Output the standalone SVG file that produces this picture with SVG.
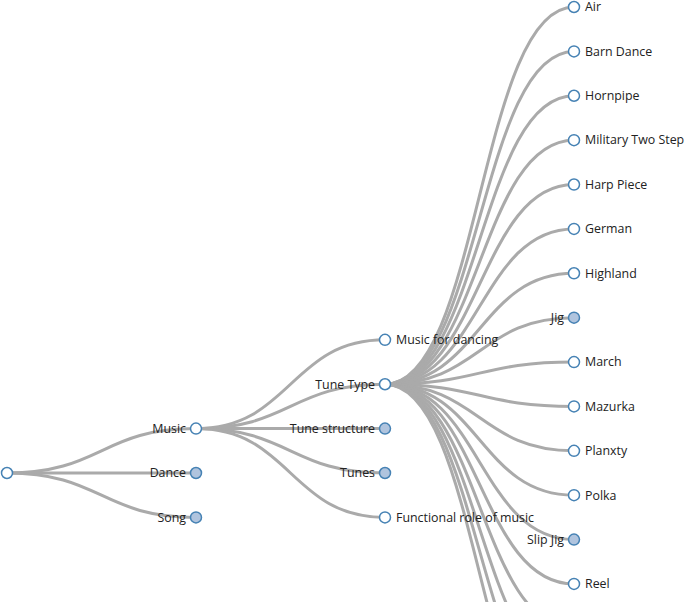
<svg xmlns="http://www.w3.org/2000/svg" width="685" height="602" viewBox="0 0 685 602">
<style>
.link{fill:none;stroke:#aaaaaa;stroke-width:3}
.node circle{stroke:#4682b4;stroke-width:1.5;fill:#fff}
.node.collapsed circle{fill:#b0c4de}
.node text{font-family:"Open Sans","Liberation Sans",sans-serif;font-size:12.4px;fill:#222}
.l{text-anchor:end}
</style>
<rect width="685" height="602" fill="#fff"/>
<g id="links">
<path class="link" d="M7,473C101.5,473 101.5,428.62 196,428.62"/>
<path class="link" d="M7,473C101.5,473 101.5,473 196,473"/>
<path class="link" d="M7,473C101.5,473 101.5,517.38 196,517.38"/>
<path class="link" d="M196,428.62C290.5,428.62 290.5,339.86 385,339.86"/>
<path class="link" d="M196,428.62C290.5,428.62 290.5,384.24 385,384.24"/>
<path class="link" d="M196,428.62C290.5,428.62 290.5,428.62 385,428.62"/>
<path class="link" d="M196,428.62C290.5,428.62 290.5,473 385,473"/>
<path class="link" d="M196,428.62C290.5,428.62 290.5,517.38 385,517.38"/>
<path class="link" d="M385,384.24C479.5,384.24 479.5,7 574,7"/>
<path class="link" d="M385,384.24C479.5,384.24 479.5,51.38 574,51.38"/>
<path class="link" d="M385,384.24C479.5,384.24 479.5,95.76 574,95.76"/>
<path class="link" d="M385,384.24C479.5,384.24 479.5,140.14 574,140.14"/>
<path class="link" d="M385,384.24C479.5,384.24 479.5,184.52 574,184.52"/>
<path class="link" d="M385,384.24C479.5,384.24 479.5,228.9 574,228.9"/>
<path class="link" d="M385,384.24C479.5,384.24 479.5,273.29 574,273.29"/>
<path class="link" d="M385,384.24C479.5,384.24 479.5,317.67 574,317.67"/>
<path class="link" d="M385,384.24C479.5,384.24 479.5,362.05 574,362.05"/>
<path class="link" d="M385,384.24C479.5,384.24 479.5,406.43 574,406.43"/>
<path class="link" d="M385,384.24C479.5,384.24 479.5,450.81 574,450.81"/>
<path class="link" d="M385,384.24C479.5,384.24 479.5,495.19 574,495.19"/>
<path class="link" d="M385,384.24C479.5,384.24 479.5,539.57 574,539.57"/>
<path class="link" d="M385,384.24C479.5,384.24 479.5,583.95 574,583.95"/>
<path class="link" d="M385,384.24C479.5,384.24 479.5,628.33 574,628.33"/>
<path class="link" d="M385,384.24C479.5,384.24 479.5,672.71 574,672.71"/>
<path class="link" d="M385,384.24C479.5,384.24 479.5,717.09 574,717.09"/>
<path class="link" d="M385,384.24C479.5,384.24 479.5,761.47 574,761.47"/>
</g>
<g id="root" class="node" transform="translate(7,473)"><circle r="5.5"/></g>
<g id="music" class="node" transform="translate(196,428.62)"><circle r="5.5"/><text class="l" x="-10" dy="0.35em">Music</text></g>
<g id="dance" class="node collapsed" transform="translate(196,473)"><circle r="5.5"/><text class="l" x="-10" dy="0.35em">Dance</text></g>
<g id="song" class="node collapsed" transform="translate(196,517.38)"><circle r="5.5"/><text class="l" x="-10" dy="0.35em">Song</text></g>
<g id="music-for-dancing" class="node" transform="translate(385,339.86)"><circle r="5.5"/><text x="11" dy="0.35em">Music for dancing</text></g>
<g id="tune-type" class="node" transform="translate(385,384.24)"><circle r="5.5"/><text class="l" x="-10" dy="0.35em">Tune Type</text></g>
<g id="tune-structure" class="node collapsed" transform="translate(385,428.62)"><circle r="5.5"/><text class="l" x="-10" dy="0.35em">Tune structure</text></g>
<g id="tunes" class="node collapsed" transform="translate(385,473)"><circle r="5.5"/><text class="l" x="-10" dy="0.35em">Tunes</text></g>
<g id="functional-role" class="node" transform="translate(385,517.38)"><circle r="5.5"/><text x="11" dy="0.35em">Functional role of music</text></g>
<g id="air" class="node" transform="translate(574,7)"><circle r="5.5"/><text x="11" dy="0.35em">Air</text></g>
<g id="barn-dance" class="node" transform="translate(574,51.38)"><circle r="5.5"/><text x="11" dy="0.35em">Barn Dance</text></g>
<g id="hornpipe" class="node" transform="translate(574,95.76)"><circle r="5.5"/><text x="11" dy="0.35em">Hornpipe</text></g>
<g id="military-two-step" class="node" transform="translate(574,140.14)"><circle r="5.5"/><text x="11" dy="0.35em">Military Two Step</text></g>
<g id="harp-piece" class="node" transform="translate(574,184.52)"><circle r="5.5"/><text x="11" dy="0.35em">Harp Piece</text></g>
<g id="german" class="node" transform="translate(574,228.9)"><circle r="5.5"/><text x="11" dy="0.35em">German</text></g>
<g id="highland" class="node" transform="translate(574,273.29)"><circle r="5.5"/><text x="11" dy="0.35em">Highland</text></g>
<g id="jig" class="node collapsed" transform="translate(574,317.67)"><circle r="5.5"/><text class="l" x="-10" dy="0.35em">Jig</text></g>
<g id="march" class="node" transform="translate(574,362.05)"><circle r="5.5"/><text x="11" dy="0.35em">March</text></g>
<g id="mazurka" class="node" transform="translate(574,406.43)"><circle r="5.5"/><text x="11" dy="0.35em">Mazurka</text></g>
<g id="planxty" class="node" transform="translate(574,450.81)"><circle r="5.5"/><text x="11" dy="0.35em">Planxty</text></g>
<g id="polka" class="node" transform="translate(574,495.19)"><circle r="5.5"/><text x="11" dy="0.35em">Polka</text></g>
<g id="slip-jig" class="node collapsed" transform="translate(574,539.57)"><circle r="5.5"/><text class="l" x="-10" dy="0.35em">Slip Jig</text></g>
<g id="reel" class="node" transform="translate(574,583.95)"><circle r="5.5"/><text x="11" dy="0.35em">Reel</text></g>
</svg>
